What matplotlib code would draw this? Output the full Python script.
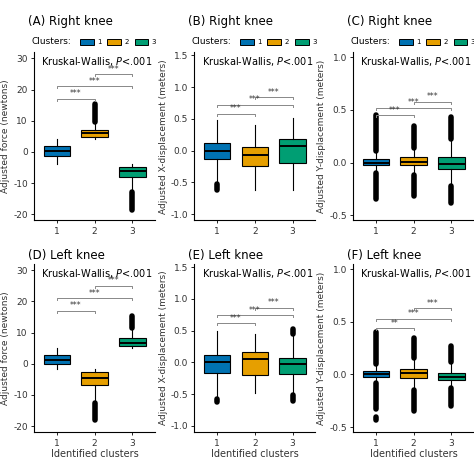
import matplotlib
matplotlib.use("Agg")
import matplotlib.pyplot as plt
from matplotlib.patches import Patch
from matplotlib.offsetbox import HPacker

colors = ["#0072B2", "#E69F00", "#009E73"]
clusters = ["1", "2", "3"]

titles = ["(A) Right knee", "(B) Right knee", "(C) Right knee",
          "(D) Left knee", "(E) Left knee", "(F) Left knee"]
ylabels = ["Adjusted force (newtons)", "Adjusted X-displacement (meters)",
           "Adjusted Y-displacement (meters)"] * 2
ylims = [(-22, 32), (-1.1, 1.55), (-0.55, 1.05)] * 2
yticks = [[-20, -10, 0, 10, 20, 30], [-1.0, -0.5, 0.0, 0.5, 1.0, 1.5],
          [-0.5, 0.0, 0.5, 1.0]] * 2
ytlabels = [["-20", "-10", "0", "10", "20", "30"],
            ["-1.0", "-0.5", "0.0", "0.5", "1.0", "1.5"],
            ["-0.5", "0.0", "0.5", "1.0"]] * 2

# per panel: (q1, med, q3, whislo, whishi) for clusters 1..3
box_stats = [
    [(-1.2, 0.3, 1.8, -3.8, 4.0), (4.8, 6.0, 7.0, 4.2, 9.5), (-8.2, -6.3, -4.8, -12.8, -3.8)],
    [(-0.14, 0.0, 0.12, -0.52, 0.48), (-0.24, -0.07, 0.05, -0.62, 0.40), (-0.19, 0.07, 0.18, -0.62, 0.52)],
    [(-0.02, 0.0, 0.03, -0.10, 0.11), (-0.02, 0.01, 0.05, -0.12, 0.14), (-0.06, -0.01, 0.05, -0.22, 0.22)],
    [(0.0, 1.2, 2.7, -1.8, 5.0), (-6.8, -4.5, -2.8, -12.5, -1.8), (5.8, 6.8, 8.2, 5.2, 11.5)],
    [(-0.17, 0.0, 0.12, -0.55, 0.50), (-0.20, 0.05, 0.17, -0.48, 0.45), (-0.18, -0.03, 0.07, -0.52, 0.45)],
    [(-0.02, 0.0, 0.03, -0.08, 0.10), (-0.03, 0.01, 0.05, -0.15, 0.16), (-0.05, -0.02, 0.01, -0.13, 0.12)],
]
# dense outlier ranges (lo, hi) per cluster
flier_ranges = [
    [[], [(9.5, 15.5)], [(-18.5, -12.8)]],
    [[(-0.62, -0.53)], [(-0.66, -0.66)], []],
    [[(0.11, 0.45), (-0.35, -0.10)], [(0.14, 0.35), (-0.32, -0.12), (-0.38, -0.38)], [(0.22, 0.43), (-0.38, -0.22)]],
    [[], [(-18.0, -12.5)], [(11.5, 15.3)]],
    [[(-0.62, -0.58)], [], [(0.45, 0.52), (-0.60, -0.52)]],
    [[(0.10, 0.40), (-0.33, -0.08), (-0.43, -0.40)], [(0.16, 0.35), (-0.35, -0.15), (-0.39, -0.39)], [(0.12, 0.27), (-0.30, -0.13)]],
]
# comparison brackets: (i, j, y, label)
brackets = [
    [(1, 2, 17, "***"), (1, 3, 21, "***"), (2, 3, 25, "***")],
    [(1, 2, 0.58, "***"), (1, 3, 0.72, "***"), (2, 3, 0.84, "***")],
    [(1, 2, 0.45, "***"), (1, 3, 0.52, "***"), (2, 3, 0.58, "***")],
    [(1, 2, 17, "***"), (1, 3, 21, "***"), (2, 3, 25, "***")],
    [(1, 2, 0.62, "***"), (1, 3, 0.74, "***"), (2, 3, 0.86, "***")],
    [(1, 2, 0.44, "**"), (1, 3, 0.53, "***"), (2, 3, 0.63, "***")],
]

fig = plt.figure(figsize=(4.74, 4.74), dpi=100)
lefts = [0.072, 0.41, 0.745]
bottoms = [0.535, 0.088]
w, h = 0.255, 0.355
tc = "#333333"
for k in range(6):
    r, c = divmod(k, 3)
    ax = fig.add_axes([lefts[c], bottoms[r], w, h])
    stats = []
    for (q1, med, q3, lo, hi) in box_stats[k]:
        stats.append(dict(q1=q1, med=med, q3=q3, whislo=lo, whishi=hi, fliers=[]))
    ax.bxp(stats, positions=[1, 2, 3], widths=0.7, patch_artist=True, showcaps=False,
           boxprops=dict(linewidth=0.8, edgecolor="black"),
           medianprops=dict(color="black", linewidth=1.4),
           whiskerprops=dict(linewidth=0.8, color="black"))
    for patch, col in zip(ax.patches, colors):
        patch.set_facecolor(col)
    for i, fr in enumerate(flier_ranges[k]):
        for lo, hi in fr:
            ax.plot([i + 1, i + 1], [lo, hi], color="black", lw=4, solid_capstyle="round")
    span = ylims[k][1] - ylims[k][0]
    for i, j, y, lab in brackets[k]:
        d = span * 0.012
        ax.plot([i, i, j, j], [y - d, y, y, y - d], color="#888888", lw=0.7)
        ax.text((i + j) / 2, y + d * 0.2, lab, ha="center", va="bottom", fontsize=5.5, color=tc)
    ax.text(0.52, 0.985, "Kruskal-Wallis, $P$<.001", transform=ax.transAxes, ha="center",
            va="top", fontsize=7, color="black")
    ax.set_ylim(*ylims[k])
    ax.set_xlim(0.4, 3.6)
    ax.set_yticks(yticks[k])
    ax.set_yticklabels(ytlabels[k])
    ax.set_xticks([1, 2, 3])
    ax.set_xticklabels(clusters)
    ax.tick_params(labelsize=6.5, colors="black", labelcolor=tc, length=2.5, width=0.6, pad=2)
    for s in ["top", "right"]:
        ax.spines[s].set_visible(False)
    for s in ["left", "bottom"]:
        ax.spines[s].set_linewidth(0.8)
    ax.set_ylabel(ylabels[k], fontsize=6.5, color=tc, labelpad=2)
    if r == 1:
        ax.set_xlabel("Identified clusters", fontsize=7, color=tc, labelpad=1)
    ax.set_title(titles[k], loc="left", fontsize=8.5, x=-0.05,
                 y=1.16 if r == 0 else 1.03, pad=0)
    if r == 0:
        handles = [Patch(facecolor=col, edgecolor="black", linewidth=0.7) for col in colors]
        ax.legend(handles, clusters, title="Clusters:", ncol=3, fontsize=5,
                  title_fontsize=6.5, loc="lower left", bbox_to_anchor=(-0.06, 1.005),
                  frameon=False, handlelength=2.0, handleheight=1.1, columnspacing=0.8,
                  handletextpad=0.5, borderpad=0.2)
        leg = ax.get_legend()
        leg._legend_box._children = [HPacker(children=[leg._legend_title_box] + list(leg._legend_box._children[1:]),
                                             align="center", pad=0, sep=6)]
fig.savefig("out.png", dpi=100)
